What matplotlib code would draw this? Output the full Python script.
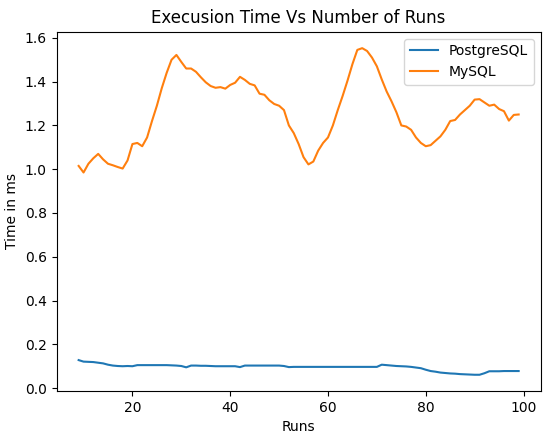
import matplotlib
matplotlib.use('Agg')
import matplotlib.pyplot as plt

runs = list(range(9, 100))

postgres_ms = [0.128, 0.121, 0.120, 0.119, 0.116, 0.113, 0.107, 0.103, 0.101, 0.100,
               0.101, 0.100, 0.105, 0.105, 0.105, 0.105, 0.105, 0.105, 0.105, 0.104,
               0.103, 0.101, 0.095, 0.103, 0.103, 0.102, 0.102, 0.101, 0.100, 0.100,
               0.100, 0.100, 0.100, 0.096, 0.103, 0.103, 0.103, 0.103, 0.103, 0.103,
               0.103, 0.103, 0.101, 0.096, 0.097, 0.097, 0.097, 0.097, 0.097, 0.097,
               0.097, 0.097, 0.097, 0.097, 0.097, 0.097, 0.097, 0.097, 0.097, 0.097,
               0.097, 0.097, 0.107, 0.105, 0.103, 0.101, 0.100, 0.099, 0.097, 0.094,
               0.091, 0.084, 0.078, 0.075, 0.071, 0.069, 0.067, 0.066, 0.064, 0.063,
               0.062, 0.061, 0.061, 0.068, 0.077, 0.077, 0.077, 0.078, 0.078, 0.078,
               0.078]

mysql_ms = [1.015, 0.985, 1.025, 1.050, 1.070, 1.045, 1.025, 1.018, 1.010, 1.003,
            1.040, 1.115, 1.120, 1.105, 1.145, 1.220, 1.290, 1.370, 1.440, 1.500,
            1.522, 1.490, 1.460, 1.460, 1.445, 1.420, 1.397, 1.380, 1.372, 1.375,
            1.368, 1.385, 1.395, 1.422, 1.408, 1.390, 1.383, 1.345, 1.340, 1.315,
            1.298, 1.290, 1.270, 1.200, 1.165, 1.115, 1.055, 1.022, 1.035, 1.085,
            1.120, 1.145, 1.200, 1.270, 1.335, 1.405, 1.480, 1.545, 1.553, 1.540,
            1.510, 1.470, 1.410, 1.355, 1.310, 1.260, 1.200, 1.195, 1.180, 1.145,
            1.120, 1.105, 1.110, 1.130, 1.150, 1.180, 1.220, 1.225, 1.250, 1.270,
            1.290, 1.318, 1.320, 1.305, 1.290, 1.295, 1.275, 1.265, 1.222, 1.248,
            1.250]

fig, ax = plt.subplots(figsize=(5.5, 4.36), dpi=100)
fig.subplots_adjust(left=0.103, right=0.983, top=0.927, bottom=0.103)

ax.plot(runs, postgres_ms, label='PostgreSQL')
ax.plot(runs, mysql_ms, label='MySQL')
ax.set_title('Execusion Time Vs Number of Runs')
ax.set_xlabel('Runs')
ax.set_ylabel('Time in ms')
ax.legend(loc='upper right')

fig.savefig('out.png')
